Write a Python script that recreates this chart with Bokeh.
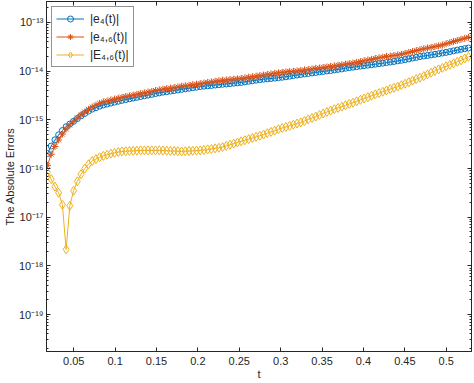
from bokeh.plotting import figure
from bokeh.models import Range1d, FixedTicker, LinearAxis, LogAxis, Legend, LegendItem
from bokeh.embed import file_html
from bokeh.resources import INLINE

t = [0.0183, 0.0228, 0.0273, 0.0318, 0.0363, 0.0408, 0.0453, 0.0498, 0.0543, 0.0588,
     0.0633, 0.0678, 0.0723, 0.0768, 0.0813, 0.0858, 0.0903, 0.0948, 0.0993, 0.1038,
     0.1083, 0.1128, 0.1173, 0.1218, 0.1263, 0.1308, 0.1353, 0.1398, 0.1443, 0.1488,
     0.1533, 0.1578, 0.1623, 0.1668, 0.1713, 0.1758, 0.1803, 0.1848, 0.1893, 0.1938,
     0.1983, 0.2028, 0.2073, 0.2118, 0.2163, 0.2208, 0.2253, 0.2298, 0.2343, 0.2388,
     0.2433, 0.2478, 0.2523, 0.2568, 0.2613, 0.2658, 0.2703, 0.2748, 0.2793, 0.2838,
     0.2883, 0.2928, 0.2973, 0.3018, 0.3063, 0.3108, 0.3153, 0.3198, 0.3243, 0.3288,
     0.3333, 0.3378, 0.3423, 0.3468, 0.3513, 0.3558, 0.3603, 0.3648, 0.3693, 0.3738,
     0.3783, 0.3828, 0.3873, 0.3918, 0.3963, 0.4008, 0.4053, 0.4098, 0.4143, 0.4188,
     0.4233, 0.4278, 0.4323, 0.4368, 0.4413, 0.4458, 0.4503, 0.4548, 0.4593, 0.4638,
     0.4683, 0.4728, 0.4773, 0.4818, 0.4863, 0.4908, 0.4953, 0.4998, 0.5043, 0.5088,
     0.5133, 0.5178, 0.5223, 0.5268]

e4 = [2.04e-16, 2.90e-16, 3.88e-16, 4.92e-16, 6.03e-16, 7.21e-16, 8.20e-16, 9.31e-16, 1.06e-15, 1.21e-15,
      1.35e-15, 1.51e-15, 1.66e-15, 1.78e-15, 1.91e-15, 2.02e-15, 2.11e-15, 2.21e-15, 2.31e-15, 2.41e-15,
      2.51e-15, 2.61e-15, 2.70e-15, 2.81e-15, 2.90e-15, 3.01e-15, 3.11e-15, 3.23e-15, 3.34e-15, 3.47e-15,
      3.58e-15, 3.71e-15, 3.79e-15, 3.90e-15, 4.00e-15, 4.11e-15, 4.23e-15, 4.34e-15, 4.46e-15, 4.58e-15,
      4.69e-15, 4.83e-15, 4.92e-15, 5.01e-15, 5.08e-15, 5.19e-15, 5.28e-15, 5.38e-15, 5.46e-15, 5.56e-15,
      5.68e-15, 5.75e-15, 5.86e-15, 6.03e-15, 6.21e-15, 6.35e-15, 6.53e-15, 6.68e-15, 6.85e-15, 6.95e-15,
      7.08e-15, 7.21e-15, 7.36e-15, 7.50e-15, 7.67e-15, 7.89e-15, 8.13e-15, 8.32e-15, 8.55e-15, 8.77e-15,
      8.97e-15, 9.18e-15, 9.40e-15, 9.64e-15, 9.86e-15, 1.01e-14, 1.03e-14, 1.06e-14, 1.09e-14, 1.11e-14,
      1.15e-14, 1.18e-14, 1.21e-14, 1.24e-14, 1.27e-14, 1.30e-14, 1.33e-14, 1.36e-14, 1.39e-14, 1.43e-14,
      1.46e-14, 1.50e-14, 1.54e-14, 1.58e-14, 1.63e-14, 1.67e-14, 1.73e-14, 1.79e-14, 1.86e-14, 1.92e-14,
      2.00e-14, 2.05e-14, 2.10e-14, 2.16e-14, 2.22e-14, 2.28e-14, 2.36e-14, 2.43e-14, 2.52e-14, 2.61e-14,
      2.71e-14, 2.81e-14, 2.90e-14, 2.99e-14]

e46 = [1.16e-16, 1.96e-16, 2.84e-16, 3.86e-16, 5.08e-16, 6.53e-16, 7.82e-16, 9.31e-16, 1.09e-15, 1.27e-15,
       1.45e-15, 1.64e-15, 1.83e-15, 2.00e-15, 2.18e-15, 2.33e-15, 2.43e-15, 2.55e-15, 2.66e-15, 2.78e-15,
       2.90e-15, 3.01e-15, 3.11e-15, 3.23e-15, 3.34e-15, 3.47e-15, 3.58e-15, 3.72e-15, 3.85e-15, 4.00e-15,
       4.13e-15, 4.27e-15, 4.38e-15, 4.50e-15, 4.60e-15, 4.74e-15, 4.88e-15, 4.99e-15, 5.13e-15, 5.28e-15,
       5.41e-15, 5.56e-15, 5.70e-15, 5.86e-15, 6.00e-15, 6.18e-15, 6.35e-15, 6.50e-15, 6.59e-15, 6.73e-15,
       6.85e-15, 6.95e-15, 7.08e-15, 7.28e-15, 7.50e-15, 7.67e-15, 7.89e-15, 8.09e-15, 8.32e-15, 8.55e-15,
       8.77e-15, 9.02e-15, 9.23e-15, 9.44e-15, 9.64e-15, 9.82e-15, 9.95e-15, 1.01e-14, 1.03e-14, 1.06e-14,
       1.08e-14, 1.11e-14, 1.14e-14, 1.16e-14, 1.19e-14, 1.22e-14, 1.25e-14, 1.28e-14, 1.32e-14, 1.35e-14,
       1.39e-14, 1.43e-14, 1.47e-14, 1.52e-14, 1.57e-14, 1.64e-14, 1.69e-14, 1.75e-14, 1.82e-14, 1.88e-14,
       1.94e-14, 2.00e-14, 2.04e-14, 2.10e-14, 2.15e-14, 2.22e-14, 2.32e-14, 2.43e-14, 2.54e-14, 2.65e-14,
       2.76e-14, 2.87e-14, 2.98e-14, 3.08e-14, 3.20e-14, 3.31e-14, 3.45e-14, 3.66e-14, 3.85e-14, 4.06e-14,
       4.27e-14, 4.50e-14, 4.72e-14, 4.97e-14]

E46 = [8.32e-17, 6.03e-17, 4.23e-17, 3.16e-17, 1.80e-17, 2.18e-18, 1.72e-17, 3.50e-17, 5.46e-17, 7.64e-17,
       9.95e-17, 1.22e-16, 1.43e-16, 1.56e-16, 1.70e-16, 1.82e-16, 1.92e-16, 2.02e-16, 2.10e-16, 2.18e-16,
       2.24e-16, 2.26e-16, 2.29e-16, 2.31e-16, 2.33e-16, 2.36e-16, 2.36e-16, 2.36e-16, 2.36e-16, 2.36e-16,
       2.36e-16, 2.34e-16, 2.32e-16, 2.30e-16, 2.29e-16, 2.26e-16, 2.24e-16, 2.26e-16, 2.29e-16, 2.31e-16,
       2.33e-16, 2.36e-16, 2.40e-16, 2.47e-16, 2.52e-16, 2.60e-16, 2.67e-16, 2.76e-16, 2.92e-16, 3.08e-16,
       3.24e-16, 3.42e-16, 3.62e-16, 3.81e-16, 4.02e-16, 4.23e-16, 4.48e-16, 4.71e-16, 4.99e-16, 5.31e-16,
       5.65e-16, 6.00e-16, 6.41e-16, 6.79e-16, 7.14e-16, 7.53e-16, 7.93e-16, 8.39e-16, 8.85e-16, 9.48e-16,
       1.02e-15, 1.09e-15, 1.17e-15, 1.26e-15, 1.35e-15, 1.45e-15, 1.55e-15, 1.66e-15, 1.76e-15, 1.87e-15,
       2.00e-15, 2.12e-15, 2.25e-15, 2.41e-15, 2.58e-15, 2.74e-15, 2.92e-15, 3.13e-15, 3.33e-15, 3.55e-15,
       3.78e-15, 4.02e-15, 4.29e-15, 4.56e-15, 4.83e-15, 5.16e-15, 5.53e-15, 5.94e-15, 6.38e-15, 6.85e-15,
       7.36e-15, 7.93e-15, 8.59e-15, 9.31e-15, 1.01e-14, 1.09e-14, 1.17e-14, 1.26e-14, 1.35e-14, 1.45e-14,
       1.56e-14, 1.67e-14, 1.82e-14, 1.97e-14]

series_names = ["|e\u2084(t)|", "|e\u2084,\u2086(t)|", "|E\u2084,\u2086(t)|"]

x_ticks = [0.05, 0.1, 0.15, 0.2, 0.25, 0.3, 0.35, 0.4, 0.45, 0.5]
x_tick_labels = ["0.05", "0.1", "0.15", "0.2", "0.25", "0.3", "0.35", "0.4", "0.45", "0.5"]
y_ticks = [1e-19, 1e-18, 1e-17, 1e-16, 1e-15, 1e-14, 1e-13]
y_tick_labels = ["10\u207b\u00b9\u2079", "10\u207b\u00b9\u2078", "10\u207b\u00b9\u2077",
                 "10\u207b\u00b9\u2076", "10\u207b\u00b9\u2075", "10\u207b\u00b9\u2074",
                 "10\u207b\u00b9\u00b3"]
y_minor = [m * 10.0 ** e for e in range(-20, -12) for m in range(2, 10)]

FONT = "Liberation Sans"
AX = "#262626"
BLUE, ORANGE, YELLOW = "#0072BD", "#D95319", "#EDB120"

p = figure(width=474, height=383, x_range=Range1d(0.0171, 0.5305),
           y_range=Range1d(1.74e-20, 2.70e-13), y_axis_type="log",
           output_backend="svg", toolbar_location=None,
           min_border_left=45, min_border_right=3, min_border_top=1, min_border_bottom=32)
p.background_fill_color = "white"
p.border_fill_color = "white"
p.outline_line_color = AX
p.outline_line_width = 1
p.xgrid.visible = False
p.ygrid.visible = False

xt = FixedTicker(ticks=x_ticks)
yt = FixedTicker(ticks=y_ticks, minor_ticks=y_minor)

p.xaxis.ticker = xt
p.xaxis.major_label_overrides = dict(zip(x_ticks, x_tick_labels))
p.yaxis.ticker = yt
p.yaxis.major_label_overrides = dict(zip(y_ticks, y_tick_labels))
p.xaxis.axis_label = "t"
p.yaxis.axis_label = "The Absolute Errors"

for ax in [p.xaxis[0], p.yaxis[0]]:
    ax.axis_line_color = AX
    ax.major_tick_line_color = AX
    ax.minor_tick_line_color = AX
    ax.major_tick_in = 4
    ax.major_tick_out = 0
    ax.minor_tick_in = 2
    ax.minor_tick_out = 0
    ax.major_label_text_font = FONT
    ax.major_label_text_font_size = "11px"
    ax.major_label_text_color = AX
    ax.axis_label_text_font = FONT
    ax.axis_label_text_font_size = "11px"
    ax.axis_label_text_font_style = "normal"
    ax.axis_label_text_color = AX
    ax.major_label_standoff = 3
    ax.axis_label_standoff = 0
p.xaxis[0].minor_tick_line_color = None
p.xaxis[0].major_label_standoff = 5

top_ax = LinearAxis(ticker=xt, major_label_overrides={v: "" for v in x_ticks},
                    major_label_standoff=0, major_label_text_font_size="1px",
                    axis_line_color=AX, major_tick_line_color=AX, major_tick_in=4,
                    major_tick_out=0, minor_tick_line_color=None)
right_ax = LogAxis(ticker=yt, major_label_overrides={v: "" for v in y_ticks},
                   major_label_standoff=0, major_label_text_font_size="1px",
                   axis_line_color=AX, major_tick_line_color=AX, major_tick_in=4,
                   major_tick_out=0, minor_tick_line_color=AX, minor_tick_in=2, minor_tick_out=0)
p.add_layout(top_ax, "above")
p.add_layout(right_ax, "right")

l1 = p.line(t, e4, line_color=BLUE, line_width=1)
s1 = p.scatter(t, e4, marker="circle", size=6, fill_color=None, line_color=BLUE, line_width=1)
l2 = p.line(t, e46, line_color=ORANGE, line_width=1)
s2 = p.scatter(t, e46, marker="asterisk", size=7, line_color=ORANGE, line_width=1)
l3 = p.line(t, E46, line_color=YELLOW, line_width=1)
s3 = p.scatter(t, E46, marker="diamond", size=9, fill_color=None, line_color=YELLOW, line_width=1)

legend = Legend(items=[LegendItem(label=series_names[0], renderers=[l1, s1]),
                       LegendItem(label=series_names[1], renderers=[l2, s2]),
                       LegendItem(label=series_names[2], renderers=[l3, s3])],
                location="top_left")
legend.margin = 5
legend.padding = 4
legend.spacing = 3
legend.glyph_height = 15
legend.label_height = 15
legend.glyph_width = 28
legend.label_standoff = 6
legend.label_text_font = FONT
legend.label_text_font_size = "12px"
legend.label_text_color = AX
legend.border_line_color = AX
legend.border_line_width = 1
legend.background_fill_alpha = 1
p.add_layout(legend)

open("out.html", "w").write(file_html(p, INLINE))
